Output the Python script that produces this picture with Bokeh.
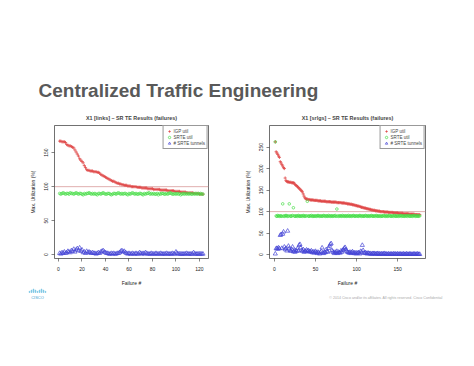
from bokeh.plotting import figure
from bokeh.models import Range1d, Span, Legend, LegendItem, Label, FixedTicker
from bokeh.layouts import column, row
from bokeh.embed import file_html
from bokeh.resources import INLINE

# ---------------- data ----------------
slide_title = "Centralized Traffic Engineering"
left_title = "X1 [links] \u2013 SR TE Results (failures)"
right_title = "X1 [srlgs] \u2013 SR TE Results (failures)"
x_label = "Failure #"
y_label = "Max. Utilization (%)"
legend_labels = ["IGP util", "SRTE util", "# SRTE tunnels"]
left_xticks = [0, 20, 40, 60, 80, 100, 120]
left_yticks = [0, 50, 100, 150]
right_xticks = [0, 50, 100, 150]
right_yticks = [0, 50, 100, 150, 200, 250]
threshold = 100

left_igp = [167, 167, 166, 166, 166, 165,
            162, 161, 160, 160, 159, 158, 157,
            154, 151, 148, 145,
            141, 139, 137, 135,
            131, 128, 125,
            124, 124, 123, 123, 123, 122, 122, 122, 121, 121, 120,
            118, 117, 116, 115, 114, 113, 112, 111, 110,
            109, 108, 108, 107, 106, 105, 105, 104, 104, 103, 103,
            102, 102, 102, 101, 101, 101, 100, 100, 100, 100,
            100, 99, 99, 99, 99, 98, 98, 98, 98, 98, 97, 97, 97, 97, 97,
            96, 96, 96, 96, 96, 96, 95, 95, 95, 95, 95, 95, 94, 94, 94, 94, 94, 94, 93, 93,
            93, 93, 93, 92, 92, 92, 92, 92, 91, 91, 91, 91, 91, 91, 90, 90, 90, 90, 90, 89, 89, 89, 89]
left_srte = [90, 89, 90, 91, 90, 89, 90, 90, 89, 91, 90, 90, 89, 90, 91, 90, 89, 90, 90, 89,
             88, 90, 89, 90, 90, 91, 90, 89, 90, 89, 90, 89, 88, 90, 90, 89, 90, 91, 90, 89,
             89, 90, 90, 89, 88, 89, 90, 90, 89, 90, 91, 90, 89, 90, 89, 90, 90, 89, 88, 90,
             89, 90, 91, 90, 89, 90, 89, 89, 90, 90, 89, 88, 90, 89, 90, 90, 91, 89, 90, 89,
             90, 89, 89, 90, 88, 90, 89, 90, 90, 89, 89, 90, 89, 90, 91, 90, 89, 89, 90, 89,
             90, 89, 90, 88, 89, 90, 89, 90, 89, 90, 89, 90, 89, 89, 90, 89, 90, 89, 90, 89,
             90, 89, 89]
left_tun = [2, 1, 3, 2, 4, 2, 3, 5, 4, 3, 6, 5, 8, 4, 7, 9, 6, 10, 5, 7,
            3, 4, 2, 5, 3, 4, 3, 2, 3, 2, 2, 1, 2, 3, 2, 4, 5, 6, 4, 3,
            2, 2, 1, 1, 2, 1, 2, 1, 1, 2, 2, 3, 5, 6, 4, 5, 3, 2, 1, 2,
            1, 1, 2, 1, 1, 2, 1, 1, 3, 2, 1, 2, 1, 3, 2, 1, 1, 1, 2, 1,
            1, 1, 2, 1, 1, 1, 2, 1, 1, 1, 1, 2, 1, 1, 1, 1, 2, 1, 1, 4,
            2, 1, 1, 1, 1, 1, 1, 1, 2, 1, 1, 1, 1, 1, 3, 1, 1, 1, 1, 1,
            1, 1, 1]
left_x = list(range(1, len(left_igp) + 1))

right_igp = [262,
             239, 236, 233, 229, 226, 216, 213, 209, 206, 202, 200,
             178, 172, 170, 169, 169, 168, 168, 168, 167, 167, 167, 166,
             163, 161, 160, 158, 156, 154, 152, 150, 148, 146, 141, 136,
             132, 130, 129, 129, 128, 128, 128, 127, 127, 127, 127, 126, 126, 126, 126, 126,
             125, 125, 125, 125, 124, 124, 124, 124, 124, 124, 123, 123, 123, 123, 123, 123,
             122, 122, 122, 122, 122, 122, 122, 121, 121, 121, 121, 121,
             121, 120, 120, 120, 120, 119, 119, 119, 118, 118, 118, 117, 117, 117, 116, 116,
             115, 115, 114, 114, 113, 113, 112, 112, 111,
             110, 110, 109, 109, 108, 108, 107, 107, 106, 106, 105, 105, 104, 104, 103, 103,
             103, 102, 102, 102, 101, 101, 101, 100, 100, 100, 100, 100,
             99, 99, 99, 99, 99, 98, 98, 98, 98, 98, 98, 97, 97, 97, 97, 97, 97,
             96, 96, 96, 96, 96, 96, 95, 95, 95, 95, 95, 95, 95,
             94, 94, 94, 94, 94, 94, 94, 93, 93, 93, 93, 93, 93, 93]
right_srte = [262,
              90, 89, 91, 90, 89, 90, 90, 89, 118,
              90, 89, 90, 91, 90, 89, 90, 118, 90, 89,
              90, 91, 109, 90, 89, 90, 90, 89, 91, 90,
              89, 90, 90, 89, 91, 90, 89, 90, 90, 124,
              90, 89, 90, 90, 91, 89, 90, 89, 90, 90,
              89, 90, 91, 90, 89, 90, 90, 89, 90, 91,
              90, 89, 90, 90, 89, 91, 90, 89, 90, 90,
              89, 90, 90, 91, 89, 106, 90, 89, 90, 90,
              90, 89, 91, 90, 89, 90, 90, 89, 90, 91,
              89, 90, 90, 89, 90, 91, 90, 89, 90, 90,
              90, 89, 90, 91, 90, 89, 90, 90, 89, 90,
              91, 90, 89, 90, 90, 89, 90, 91, 90, 89,
              90, 90, 89, 91, 90, 89, 90, 90, 89, 90,
              89, 90, 91, 90, 89, 90, 90, 89, 90, 91,
              90, 89, 90, 90, 89, 91, 90, 89, 90, 90,
              89, 90, 90, 91, 89, 90, 90, 89, 90, 90,
              90, 89, 91, 90, 89, 90, 90, 89, 90, 91,
              90, 89, 90, 90, 89, 90, 90]
right_tun = [2,
             14, 15, 13, 16, 14,
             45, 47, 15, 48,
             53, 18, 12, 15, 9, 55, 20, 14, 10, 8,
             12, 18, 7, 9, 6, 10, 8, 14, 9, 22,
             24, 16, 10, 8, 12, 6, 9, 7, 11, 8,
             10, 7, 8, 6, 9, 5, 7, 4, 6, 8,
             5, 3, 6, 4, 2, 5, 8, 16, 4, 3,
             6, 5, 12, 8, 6, 15, 20, 24, 26, 10,
             7, 5, 3, 6, 4, 8, 3, 6, 5, 4,
             9, 6, 10, 12, 15, 17, 12, 8, 6, 5,
             4, 6, 3, 5, 7, 4, 3, 5, 2, 4,
             3, 5, 4, 2, 8, 6, 22, 10, 4, 3,
             5, 3, 2, 4, 3, 2, 3, 1, 2, 3,
             2, 3, 1, 2, 2, 3, 1, 2, 1, 2,
             2, 1, 2, 3, 1, 2, 1, 1, 2, 1,
             1, 2, 1, 1, 2, 1, 2, 1, 1, 2,
             1, 1, 2, 1, 1, 1, 2, 1, 1, 1,
             2, 1, 1, 1, 2, 1, 1, 1, 1, 2,
             1, 1, 1, 2, 1, 1, 1]
right_x = list(range(1, len(right_igp) + 1))

footer_text = "\u00a9 2014  Cisco and/or its affiliates. All rights reserved.     Cisco Confidential"
logo_bar_x = [0, 2, 4, 6, 8, 10, 12, 14, 16]
logo_bar_h = [1.2, 2.4, 3.6, 2.4, 1.2, 2.4, 3.6, 2.4, 1.2]

RED = "#e04848"
GREEN = "#46dc46"
BLUE = "#4343d6"
FONT = "Liberation Sans"


def panel(title, xs, igp, srte, tun, xr, yr, xt, yt, w, h, bl, br, bt, bb):
    p = figure(width=w, height=h, x_range=Range1d(*xr), y_range=Range1d(*yr),
               toolbar_location=None, output_backend="svg",
               min_border_left=bl, min_border_right=br,
               min_border_top=bt, min_border_bottom=bb)
    p.title.text = title
    p.title.align = "center"
    p.title.text_font = FONT
    p.title.text_font_size = "5.4px"
    p.title.text_font_style = "bold"
    p.title.standoff = 9
    p.xgrid.visible = False
    p.ygrid.visible = False
    p.outline_line_color = "#333333"
    p.outline_line_width = 0.7
    p.xaxis.ticker = FixedTicker(ticks=xt)
    p.yaxis.ticker = FixedTicker(ticks=yt)
    for ax in (p.xaxis, p.yaxis):
        ax.axis_line_color = None
        ax.major_tick_out = 3
        ax.major_tick_in = 0
        ax.minor_tick_line_color = None
        ax.major_tick_line_color = "#333333"
        ax.major_tick_line_width = 0.6
        ax.major_label_text_font = FONT
        ax.major_label_text_font_size = "5px"
        ax.major_label_text_color = "#222222"
        ax.axis_label_text_font = FONT
        ax.axis_label_text_font_size = "5px"
        ax.axis_label_text_font_style = "normal"
        ax.axis_label_text_color = "#222222"
    p.xaxis.axis_label = x_label
    p.yaxis.axis_label = y_label
    p.xaxis.major_label_standoff = 5
    p.xaxis.axis_label_standoff = 6
    p.yaxis.major_label_orientation = "parallel"
    p.yaxis.major_label_standoff = 3
    p.yaxis.axis_label_standoff = 6

    p.add_layout(Span(location=threshold, dimension="width", line_color="#d89a9a",
                      line_width=0.8, level="underlay"))
    r1 = p.scatter(xs, igp, marker="cross", size=3.2, line_color=RED, line_width=0.8)
    r2 = p.scatter(xs, srte, marker="circle", size=2.6, fill_color=None,
                   line_color=GREEN, line_width=0.7)
    r3 = p.scatter(xs, tun, marker="triangle", size=4.2, fill_color=None,
                   line_color=BLUE, line_width=0.7)
    leg = Legend(items=[LegendItem(label=legend_labels[0], renderers=[r1]),
                        LegendItem(label=legend_labels[1], renderers=[r2]),
                        LegendItem(label=legend_labels[2], renderers=[r3])],
                 location="top_right", margin=0, padding=2, spacing=0,
                 label_text_font=FONT, label_text_font_size="4.5px",
                 label_height=6, glyph_height=6, glyph_width=7, label_standoff=1,
                 border_line_color="#333333", border_line_width=0.6,
                 background_fill_alpha=1.0)
    p.add_layout(leg)
    return p


# page coordinates (the page shows no margin): header 0-104, plots 104-288, footer 288-358
p1 = panel(left_title, left_x, left_igp, left_srte, left_tun,
           (-3.4, 127.7), (-5.7, 190), left_xticks, left_yticks,
           236, 184, 54, 28, 21, 26)
p2 = panel(right_title, right_x, right_igp, right_srte, right_tun,
           (-6.1, 184), (-8.9, 300), right_xticks, right_yticks,
           230, 184, 33, 41, 18, 27)

# header
head = figure(width=466, height=104, x_range=Range1d(0, 466), y_range=Range1d(104, 0),
              toolbar_location=None, output_backend="svg", min_border=0,
              x_axis_type=None, y_axis_type=None)
head.grid.visible = False
head.outline_line_color = None
head.add_layout(Label(x=38, y=89.5, text=slide_title, text_font=FONT, text_font_size="19px",
                      text_font_style="bold", text_color="#595959",
                      text_baseline="middle"))

# footer
foot = figure(width=466, height=70, x_range=Range1d(0, 466), y_range=Range1d(70, 0),
              toolbar_location=None, output_backend="svg", min_border=0,
              x_axis_type=None, y_axis_type=None)
foot.grid.visible = False
foot.outline_line_color = None
foot.vbar(x=[29 + v for v in logo_bar_x], bottom=4.0, top=[4.0 - v for v in logo_bar_h],
          width=0.5, color="#7cc6e4")
foot.add_layout(Label(x=37, y=8.5, text="CISCO", text_font=FONT, text_font_size="4px",
                      text_color="#3aa0cf", text_align="center", text_baseline="middle"))
foot.add_layout(Label(x=447, y=9, text=footer_text, text_font=FONT, text_font_size="3.6px",
                      text_color="#aaaaaa", text_align="right", text_baseline="middle"))

layout = column(head, row(p1, p2), foot)
open("out.html", "w").write(file_html(layout, INLINE))
